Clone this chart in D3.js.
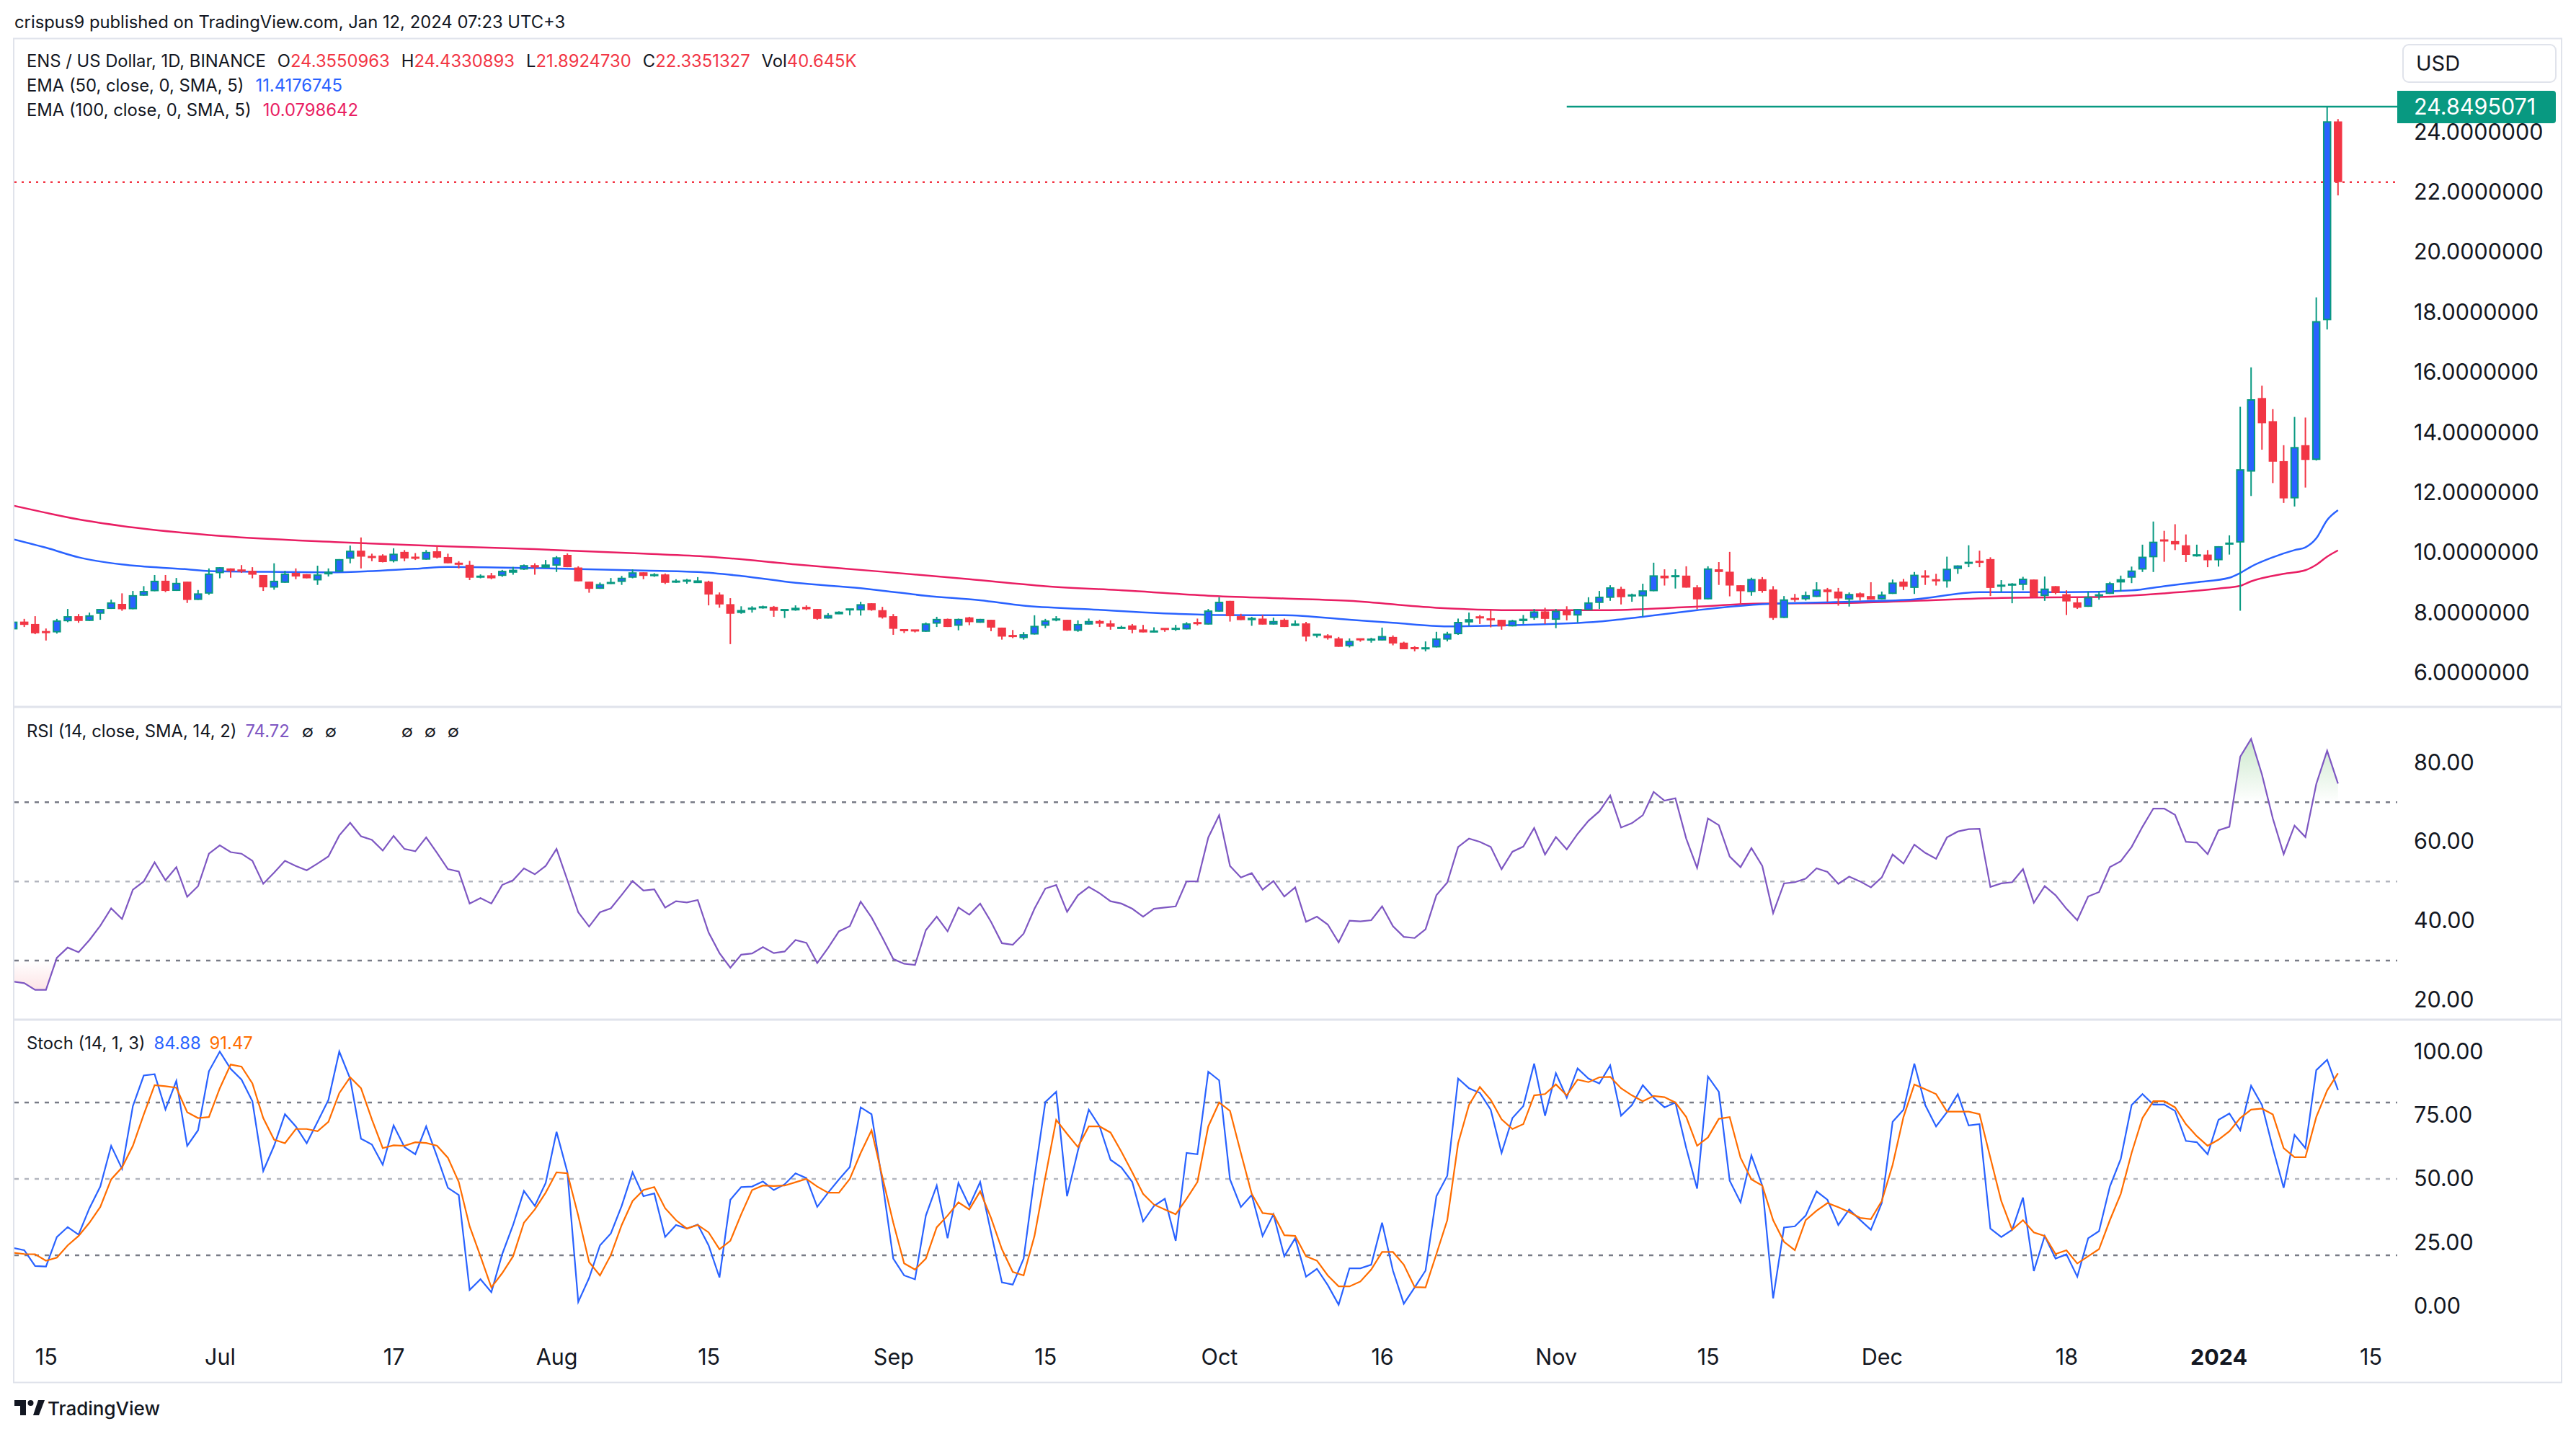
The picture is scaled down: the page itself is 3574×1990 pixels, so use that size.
<!DOCTYPE html>
<html><head><meta charset="utf-8">
<script src="https://cdn.jsdelivr.net/npm/d3@7"></script>
<style>
html,body{margin:0;padding:0;background:#fff;}
svg{display:block;}
</style></head><body>
<svg id="chart" width="3574" height="1990"></svg>
<script>
// ---------------- DATA ----------------
const firstDay = "2023-06-12";
const lastDay = "2024-01-12";
const openP = [
7.45,7.71,7.63,7.37,7.35,7.72,7.89,7.73,7.97,8.13,
8.30,8.12,8.57,8.72,9.07,8.73,9.04,8.43,8.64,9.32,
9.48,9.43,9.40,9.26,8.84,9.00,9.33,9.29,9.08,9.29,
9.37,9.80,10.07,9.88,9.91,9.72,10.03,9.85,9.77,10.05,
9.86,9.67,9.60,9.17,9.25,9.23,9.35,9.44,9.59,9.52,
9.57,9.93,9.51,9.04,8.80,8.97,9.03,9.17,9.35,9.23,
9.28,9.01,9.05,9.00,9.04,8.61,8.29,8.01,8.12,8.16,
8.20,8.08,8.09,8.20,8.13,7.81,7.96,8.10,8.08,8.32,
8.09,7.89,7.45,7.43,7.37,7.64,7.80,7.57,7.85,7.67,
7.77,7.51,7.25,7.16,7.28,7.57,7.76,7.77,7.40,7.61,
7.73,7.65,7.47,7.58,7.45,7.35,7.48,7.45,7.45,7.68,
7.61,8.04,8.40,7.89,7.76,7.81,7.61,7.77,7.57,7.65,
7.25,7.25,7.15,6.89,7.14,7.09,7.08,7.20,7.01,6.85,
6.79,6.85,7.11,7.29,7.70,7.87,7.80,7.77,7.55,7.73,
7.83,8.05,7.77,8.07,7.91,8.09,8.33,8.50,8.80,8.55,
8.55,8.72,9.24,9.20,9.24,8.85,8.45,9.45,9.37,8.92,
8.69,9.12,8.78,7.83,8.49,8.45,8.53,8.78,8.71,8.44,
8.65,8.56,8.45,8.63,9.04,8.83,9.24,9.11,9.05,9.46,
9.64,9.73,9.79,8.88,8.92,8.93,9.11,8.56,8.89,8.62,
8.35,8.20,8.55,8.63,9.03,9.17,9.44,9.85,10.43,10.39,
10.25,9.90,9.94,9.75,10.27,10.34,12.70,15.15,14.38,13.05,
11.81,13.58,13.09,17.74,24.3550963];
const highP = [
7.73,7.80,7.89,7.48,7.80,8.13,7.96,8.01,8.13,8.44,
8.65,8.73,8.89,9.26,9.26,9.16,9.04,8.76,9.48,9.52,
9.48,9.59,9.52,9.26,9.65,9.40,9.48,9.29,9.57,9.48,
9.79,10.24,10.51,9.97,9.95,10.15,10.09,9.99,10.09,10.24,
9.97,9.72,9.73,9.28,9.33,9.43,9.53,9.61,9.65,9.76,
9.89,9.98,9.55,9.04,9.01,9.16,9.23,9.45,9.35,9.32,
9.31,9.12,9.13,9.19,9.07,8.68,8.49,8.22,8.22,8.24,
8.23,8.11,8.25,8.25,8.13,7.99,8.05,8.13,8.37,8.32,
8.20,7.96,7.45,7.43,7.68,7.87,7.81,7.81,7.87,7.80,
7.77,7.51,7.43,7.36,7.92,7.80,7.89,7.77,7.75,7.81,
7.77,7.75,7.57,7.63,7.60,7.52,7.48,7.60,7.69,7.81,
8.13,8.52,8.40,7.97,7.87,7.93,7.84,7.81,7.75,7.70,
7.29,7.29,7.20,7.15,7.14,7.17,7.51,7.25,7.04,6.89,
7.05,7.37,7.37,7.81,8.01,7.93,8.09,7.77,7.77,7.93,
8.13,8.17,8.13,8.22,8.13,8.52,8.73,8.92,8.87,8.64,
8.97,9.67,9.45,9.45,9.55,8.92,9.55,9.69,10.03,8.92,
9.17,9.19,8.89,8.56,8.63,8.71,9.02,8.83,8.83,8.68,
8.68,9.02,8.71,9.11,9.13,9.36,9.42,9.30,9.87,9.58,
10.25,10.07,9.85,9.09,8.99,9.20,9.11,9.21,8.89,8.75,
8.50,8.71,8.71,9.03,9.24,9.54,10.27,11.04,10.73,10.95,
10.61,10.27,10.09,10.22,10.58,14.86,16.17,15.56,14.78,13.58,
14.52,14.50,18.50,24.8495071,24.4330893];
const lowP = [
7.33,7.53,7.29,7.08,7.31,7.69,7.67,7.73,7.77,8.13,
8.07,8.12,8.57,8.72,8.69,8.73,8.33,8.43,8.60,9.15,
9.17,9.33,9.15,8.73,8.77,9.00,9.12,9.15,8.93,9.21,
9.37,9.65,9.48,9.72,9.68,9.68,9.72,9.76,9.77,9.81,
9.65,9.48,9.09,9.15,9.12,9.20,9.27,9.43,9.27,9.52,
9.36,9.52,9.05,8.67,8.80,8.96,8.93,9.15,9.12,9.20,
8.96,9.00,8.97,9.00,8.25,8.17,6.96,7.97,8.01,8.14,
7.87,7.83,8.07,8.09,7.77,7.81,7.96,7.92,7.91,8.07,
7.81,7.27,7.33,7.35,7.37,7.53,7.53,7.42,7.59,7.67,
7.39,7.11,7.16,7.11,7.28,7.49,7.72,7.40,7.37,7.61,
7.53,7.44,7.47,7.32,7.35,7.35,7.37,7.40,7.45,7.58,
7.61,8.04,7.71,7.76,7.57,7.61,7.61,7.53,7.57,7.05,
7.18,7.11,6.87,6.85,7.04,7.01,7.08,6.92,6.79,6.72,
6.72,6.85,7.05,7.27,7.57,7.63,7.52,7.44,7.55,7.63,
7.77,7.63,7.49,7.75,7.68,8.09,8.13,8.40,8.28,8.37,
7.88,8.72,8.91,8.81,8.84,8.12,8.45,8.93,8.55,8.28,
8.57,8.67,7.77,7.83,8.37,8.41,8.53,8.37,8.24,8.21,
8.41,8.44,8.45,8.63,8.76,8.63,8.93,8.91,8.84,9.30,
9.52,9.52,8.56,8.69,8.32,8.75,8.50,8.40,8.62,7.93,
8.13,8.20,8.44,8.63,8.71,8.99,9.36,9.36,9.70,10.09,
9.69,9.87,9.52,9.54,9.94,8.07,11.89,13.43,12.32,11.66,
11.54,12.17,13.07,17.43,21.8924730];
const closeP = [
7.71,7.60,7.32,7.35,7.75,7.89,7.73,7.92,8.13,8.35,
8.12,8.59,8.73,9.07,8.73,9.00,8.43,8.65,9.31,9.52,
9.39,9.39,9.27,8.85,9.07,9.31,9.21,9.15,9.28,9.38,
9.79,10.07,9.87,9.84,9.69,9.97,9.81,9.82,10.03,9.84,
9.65,9.60,9.17,9.24,9.15,9.40,9.45,9.59,9.51,9.63,
9.85,9.52,9.05,8.80,8.96,9.02,9.17,9.35,9.23,9.28,
9.00,9.07,9.09,9.09,8.61,8.28,7.97,8.11,8.16,8.21,
8.07,8.11,8.18,8.12,7.80,7.93,8.05,8.13,8.29,8.09,
7.85,7.47,7.40,7.40,7.65,7.80,7.53,7.80,7.69,7.80,
7.51,7.21,7.21,7.29,7.57,7.75,7.80,7.41,7.63,7.73,
7.64,7.54,7.53,7.44,7.35,7.41,7.45,7.49,7.65,7.64,
8.08,8.37,7.89,7.76,7.84,7.61,7.73,7.53,7.65,7.21,
7.29,7.16,6.87,7.07,7.10,7.13,7.23,6.98,6.79,6.80,
6.85,7.15,7.31,7.70,7.81,7.83,7.77,7.55,7.75,7.81,
8.05,7.80,8.07,7.92,8.13,8.35,8.54,8.85,8.52,8.61,
8.75,9.25,9.15,9.24,8.84,8.45,9.48,9.36,8.91,8.72,
9.13,8.73,7.83,8.45,8.44,8.59,8.78,8.69,8.48,8.63,
8.52,8.44,8.61,9.01,8.87,9.27,9.18,9.06,9.47,9.58,
9.69,9.67,8.83,8.93,8.96,9.14,8.53,8.81,8.66,8.38,
8.17,8.53,8.62,8.99,9.14,9.41,9.87,10.37,10.39,10.28,
9.93,9.93,9.75,10.22,10.34,12.78,15.11,14.31,13.03,11.81,
13.52,13.09,17.71,24.36,22.3351327];
const volumeLabel = "40.645K";

// EMA values read at selected candle indexes
const ema50Idx = [0,3,6,10,16,18,25,29,37,40,48,58,63,67,72,78,80,84,89,93,99,107,111,117,123,127,132,138,146,150,155,157,161,169,175,181,189,195,198,201,204,205,206,208,210,211,212,213,214];
const ema50Val = [10.45,10.17,9.85,9.61,9.45,9.39,9.36,9.35,9.47,9.53,9.49,9.41,9.36,9.23,9.00,8.82,8.74,8.57,8.42,8.24,8.12,7.97,7.93,7.92,7.77,7.67,7.55,7.59,7.71,7.87,8.09,8.17,8.29,8.37,8.45,8.69,8.69,8.75,8.89,9.02,9.17,9.33,9.54,9.85,10.09,10.18,10.48,11.09,11.4176745];
const ema100Idx = [0,3,6,10,18,30,40,48,58,64,72,80,88,95,103,110,117,123,131,138,146,154,161,169,175,183,192,198,203,205,206,209,211,212,213,214];
const ema100Val = [11.57,11.33,11.11,10.89,10.59,10.35,10.21,10.12,9.97,9.87,9.61,9.37,9.12,8.89,8.73,8.57,8.48,8.40,8.17,8.09,8.09,8.19,8.31,8.33,8.40,8.50,8.53,8.65,8.81,8.90,9.05,9.30,9.42,9.60,9.87,10.0798642];

const rsiVal = [
24.7,24.3,22.6,22.6,30.7,33.3,32.1,35.2,38.8,43.2,
40.5,47.9,50.0,54.8,50.3,53.6,46.1,48.8,57.0,59.1,
57.4,57.0,55.2,49.4,52.2,55.2,53.9,52.8,54.5,56.3,
61.6,64.8,61.4,60.5,57.8,61.5,58.2,57.6,61.1,57.2,
53.1,52.5,44.4,45.8,44.4,49.1,50.3,53.3,51.8,53.9,
58.2,50.3,42.2,38.6,42.2,43.2,46.6,50.1,47.7,48.0,
43.4,45.0,44.7,45.3,37.1,31.9,28.2,31.5,31.8,33.4,
31.9,32.3,35.2,34.5,29.4,33.2,37.4,38.7,44.9,40.9,
35.8,30.4,29.2,28.9,37.7,41.1,37.4,43.4,41.6,44.4,
39.8,34.4,34.0,36.8,43.1,48.2,49.1,42.3,46.5,48.6,
47.0,45.0,44.4,43.1,41.1,43.1,43.4,43.7,50.0,50.0,
61.1,66.7,53.9,51.0,52.1,47.9,50.1,46.2,48.5,39.8,
41.1,39.1,34.6,40.1,39.9,40.2,43.7,38.7,36.0,35.7,
37.9,46.5,49.7,58.7,60.8,60.0,58.7,53.1,57.5,58.8,
63.5,56.8,61.2,58.1,62.0,65.3,67.7,71.7,63.6,64.7,
66.7,72.6,70.4,71.0,60.8,53.4,65.9,64.2,56.3,53.6,
58.4,53.9,42.0,49.5,49.8,50.7,53.3,52.4,49.4,51.2,
50.0,48.5,51.0,56.8,54.5,59.3,57.2,55.7,61.1,62.6,
63.2,63.3,48.6,49.5,49.8,53.1,44.6,48.8,46.5,43.1,
40.2,46.2,47.3,53.6,55.1,58.7,63.8,68.4,68.4,66.8,
60.0,59.8,56.9,62.9,63.8,81.5,86.0,77.0,65.9,56.9,
64.1,61.2,74.6,83.0,74.72];

const stochK = [
22.9,22.0,15.8,15.6,27.2,31.1,28.1,38.5,47.0,63.0,
54.0,78.6,90.6,91.1,77.3,88.5,63.0,69.1,92.3,100.0,
93.2,89.0,80.5,53.1,63.0,75.4,70.6,64.0,72.4,81.0,
100.0,89.4,65.8,63.5,55.6,71.0,62.5,59.7,70.6,58.8,
46.5,43.7,6.4,10.6,5.5,20.5,31.9,45.3,39.4,48.4,
68.5,52.6,1.7,11.1,23.9,28.6,39.4,52.6,43.2,44.3,
27.2,31.9,30.5,32.1,23.9,11.3,41.8,46.8,47.0,49.0,
45.6,47.9,52.2,50.3,39.0,44.6,49.8,54.7,78.1,75.4,
48.8,18.7,12.1,10.6,35.6,47.4,26.7,48.4,39.4,48.8,
29.0,9.4,8.5,18.7,50.7,80.2,84.2,43.2,61.1,77.2,
70.6,57.5,54.5,48.8,33.3,39.4,42.2,25.7,60.2,59.7,
92.1,88.7,49.8,39.0,43.7,27.6,36.1,19.6,26.7,11.6,
14.7,8.3,0.6,14.9,14.9,16.3,32.8,14.0,1.0,7.4,
14.0,43.2,51.2,89.4,85.6,83.8,77.2,60.2,73.9,78.6,
95.3,74.8,91.5,81.9,93.4,89.4,87.5,94.6,74.8,79.0,
86.8,81.9,78.1,80.0,62.1,46.2,90.2,84.2,49.3,40.8,
59.2,47.4,3.1,30.9,31.4,35.6,45.1,41.8,31.9,38.0,
33.9,30.0,40.5,72.4,77.2,95.3,79.0,70.6,76.2,83.3,
71.0,71.5,30.5,27.2,30.0,42.7,13.8,27.6,18.7,20.4,
11.6,26.7,29.5,47.0,57.8,79.0,83.3,79.2,79.2,76.7,
64.9,64.4,59.7,73.2,75.7,69.1,86.6,79.0,62.1,46.5,
67.3,62.1,92.7,96.8,84.88];
const stochD = [
21.0,20.5,20.4,17.9,19.1,23.9,27.6,32.8,39.0,49.8,
54.5,63.0,75.3,86.8,86.4,85.8,76.2,73.9,74.3,85.6,
94.9,94.1,87.5,73.9,65.4,64.0,69.6,69.6,68.7,72.4,
83.7,89.9,85.6,73.4,62.1,63.2,63.0,64.4,64.1,63.0,
58.3,48.8,31.4,19.6,7.4,13.0,19.6,32.8,38.0,44.6,
52.6,52.2,35.6,17.3,12.1,20.1,31.9,41.3,45.6,46.8,
38.5,33.8,30.5,31.9,29.0,22.4,25.7,36.1,45.6,47.4,
47.2,47.4,48.7,50.0,47.0,44.6,44.6,50.0,60.2,69.1,
50.7,32.8,16.8,14.4,18.7,31.0,35.6,40.8,38.0,45.1,
34.7,22.4,13.5,12.1,27.6,50.7,73.2,67.7,62.5,70.6,
70.6,68.2,60.7,52.6,44.1,39.9,38.0,36.1,42.2,48.8,
70.6,80.0,76.7,60.2,44.1,36.6,36.1,27.9,27.6,19.6,
17.9,12.1,7.8,7.8,9.7,14.4,21.3,21.3,16.3,7.5,
7.4,20.5,33.8,64.0,79.0,86.1,81.1,73.4,69.6,71.5,
82.8,83.3,87.1,82.8,89.0,88.0,89.9,90.1,85.6,82.8,
80.5,82.6,82.1,80.0,74.3,63.0,66.3,73.6,74.3,58.3,
49.8,47.4,33.8,25.3,22.0,33.8,37.5,40.5,38.9,37.0,
34.7,34.2,41.3,55.5,74.3,87.1,85.2,83.3,76.4,76.4,
76.4,75.4,58.3,41.3,30.0,33.8,29.0,27.6,20.5,22.0,
16.8,19.6,22.4,33.8,44.1,60.2,73.9,80.5,80.5,78.1,
71.5,66.8,63.0,65.4,68.7,73.9,77.2,77.6,75.3,62.1,
58.5,58.5,74.3,84.7,91.47];

const priceTicks = [6,8,10,12,14,16,18,20,22,24];
const rsiTicks = [20,40,60,80];
const rsiLevels = [70,50,30];
const stochTicks = [0,25,50,75,100];
const stochLevels = [80,50,20];
const timeTickDates = ["2023-06-15","2023-07-01","2023-07-17","2023-08-01","2023-08-15","2023-09-01","2023-09-15","2023-10-01","2023-10-16","2023-11-01","2023-11-15","2023-12-01","2023-12-18","2024-01-01","2024-01-15"];
const timeTickLabels = ["15","Jul","17","Aug","15","Sep","15","Oct","16","Nov","15","Dec","18","2024","15"];
const rayStartIndex = 143;

// ---------------- CHART ----------------
const FONT = "Inter, 'Noto Sans', Roboto, sans-serif";
const W = 3574, H = 1990;
const svg = d3.select("#chart");
svg.append("rect").attr("width", W).attr("height", H).attr("fill", "#ffffff");
const defs = svg.append("defs");

const parse = d3.utcParse("%Y-%m-%d");
const dates = d3.utcDay.range(parse(firstDay), d3.utcDay.offset(parse(lastDay), 1));
const x = d3.scaleUtc().domain([parse("2023-06-15"), parse("2024-01-15")]).range([63.8, 3289]);
const plotL = 20, plotR = 3326;

const yP = d3.scaleLinear().domain([6, 24]).range([933.9, 183.3]);
const yR = d3.scaleLinear().domain([20, 80]).range([1388, 1058.3]);
const yS = d3.scaleLinear().domain([0, 100]).range([1812.7, 1459.3]);

const panes = {price: [56, 979], rsi: [983, 1413], stoch: [1417, 1860]};
Object.entries(panes).forEach(([k, [t, b]]) => {
  defs.append("clipPath").attr("id", "clip-" + k).append("rect")
    .attr("x", plotL).attr("y", t).attr("width", plotR - plotL).attr("height", b - t);
});

// frame + dividers
const BORDER = "#e0e3eb";
svg.append("rect").attr("x", 19).attr("y", 53.5).attr("width", 3535).attr("height", 1865)
  .attr("fill", "none").attr("stroke", BORDER).attr("stroke-width", 2);
[981, 1415].forEach(yy => svg.append("line").attr("x1", 20).attr("x2", 3554)
  .attr("y1", yy).attr("y2", yy).attr("stroke", BORDER).attr("stroke-width", 3));

// ---- price pane ----
const gP = svg.append("g").attr("clip-path", "url(#clip-price)");
const lastClose = closeP[closeP.length - 1];
gP.append("line").attr("x1", plotL).attr("x2", plotR).attr("y1", yP(lastClose)).attr("y2", yP(lastClose))
  .attr("stroke", "#f23645").attr("stroke-width", 2.5).attr("stroke-dasharray", "3,7");
const topHigh = d3.max(highP);
gP.append("line").attr("x1", x(dates[rayStartIndex])).attr("x2", plotR).attr("y1", yP(topHigh)).attr("y2", yP(topHigh))
  .attr("stroke", "#089981").attr("stroke-width", 2.5);

const emaLine = d3.line().curve(d3.curveMonotoneX);
gP.append("path").attr("d", emaLine(ema100Idx.map((i, k) => [x(dates[i]), yP(ema100Val[k])])))
  .attr("fill", "none").attr("stroke", "#e91e63").attr("stroke-width", 2.5);
gP.append("path").attr("d", emaLine(ema50Idx.map((i, k) => [x(dates[i]), yP(ema50Val[k])])))
  .attr("fill", "none").attr("stroke", "#2962ff").attr("stroke-width", 2.5);

const UP_BORDER = "#089981", UP_FILL = "#2962ff", DOWN = "#f23645";
const bw = 11.5;
const candles = dates.map((d, i) => ({d, o: openP[i], h: highP[i], l: lowP[i], c: closeP[i]}));
gP.selectAll("line.wick").data(candles).join("line").attr("class", "wick")
  .attr("x1", d => x(d.d)).attr("x2", d => x(d.d))
  .attr("y1", d => yP(d.h)).attr("y2", d => yP(d.l))
  .attr("stroke", d => d.c >= d.o ? UP_BORDER : DOWN).attr("stroke-width", 2);
gP.selectAll("rect.body").data(candles).join("rect").attr("class", "body")
  .each(function(d) {
    const s = d3.select(this);
    const cx = x(d.d);
    const top = yP(Math.max(d.o, d.c)), bot = yP(Math.min(d.o, d.c));
    const h = bot - top;
    if (d.c >= d.o) {
      if (h < 5) {
        s.attr("x", cx - bw / 2).attr("y", (top + bot) / 2 - 1.5).attr("width", bw).attr("height", Math.max(h, 3))
          .attr("fill", UP_BORDER);
      } else {
        s.attr("x", cx - bw / 2 + 1).attr("y", top + 1).attr("width", bw - 2).attr("height", h - 2)
          .attr("fill", UP_FILL).attr("stroke", UP_BORDER).attr("stroke-width", 2);
      }
    } else {
      s.attr("x", cx - bw / 2).attr("y", h < 3 ? (top + bot) / 2 - 1.5 : top).attr("width", bw)
        .attr("height", Math.max(h, 3)).attr("fill", DOWN);
    }
  });

// price axis
const axisFont = 30.5;
function styleAxis(g) {
  g.select(".domain").remove();
  g.attr("font-family", FONT).attr("font-size", axisFont);
  g.selectAll("text").attr("fill", "#131722");
}
svg.append("g").attr("transform", "translate(3349,0)")
  .call(d3.axisRight(yP).tickValues(priceTicks).tickFormat(d3.format(".7f")).tickSize(0).tickPadding(0))
  .call(styleAxis);
svg.append("rect").attr("x", 3334).attr("y", 62).attr("width", 212).attr("height", 52).attr("rx", 8)
  .attr("fill", "#fff").attr("stroke", BORDER).attr("stroke-width", 2);
svg.append("text").attr("x", 3352).attr("y", 98).attr("font-family", FONT).attr("font-size", 29)
  .attr("fill", "#131722").text("USD");
svg.append("path").attr("d", (() => {
  const y0 = yP(topHigh) - 22, y1 = yP(topHigh) + 23, x0 = 3326, x1 = 3546, r = 4;
  return `M${x0},${y0} H${x1 - r} Q${x1},${y0} ${x1},${y0 + r} V${y1 - r} Q${x1},${y1} ${x1 - r},${y1} H${x0} Z`;
})()).attr("fill", "#089981");
svg.append("text").attr("x", 3349).attr("y", yP(topHigh)).attr("dy", "0.35em").attr("font-family", FONT)
  .attr("font-size", axisFont).attr("fill", "#fff").text(d3.format(".7f")(topHigh));

// ---- RSI pane ----
const gR = svg.append("g");
rsiLevels.forEach(v => gR.append("line").attr("x1", plotL).attr("x2", plotR).attr("y1", yR(v)).attr("y2", yR(v))
  .attr("stroke", v === 50 ? "#b2b5be" : "#787b86").attr("stroke-width", 2.5).attr("stroke-dasharray", "6,8"));
const gOB = defs.append("linearGradient").attr("id", "gradOB").attr("gradientUnits", "userSpaceOnUse")
  .attr("x1", 0).attr("x2", 0).attr("y1", yR(100)).attr("y2", yR(70));
gOB.append("stop").attr("offset", 0).attr("stop-color", "#4caf50").attr("stop-opacity", 0.55);
gOB.append("stop").attr("offset", 1).attr("stop-color", "#4caf50").attr("stop-opacity", 0);
const gOS = defs.append("linearGradient").attr("id", "gradOS").attr("gradientUnits", "userSpaceOnUse")
  .attr("x1", 0).attr("x2", 0).attr("y1", yR(30)).attr("y2", yR(0));
gOS.append("stop").attr("offset", 0).attr("stop-color", "#f23645").attr("stop-opacity", 0);
gOS.append("stop").attr("offset", 1).attr("stop-color", "#f23645").attr("stop-opacity", 0.55);
defs.append("clipPath").attr("id", "clip-ob").append("rect").attr("x", plotL).attr("y", panes.rsi[0])
  .attr("width", plotR - plotL).attr("height", yR(70) - panes.rsi[0]);
defs.append("clipPath").attr("id", "clip-os").append("rect").attr("x", plotL).attr("y", yR(30))
  .attr("width", plotR - plotL).attr("height", panes.rsi[1] - yR(30));
gR.append("g").attr("clip-path", "url(#clip-ob)").append("path")
  .attr("d", d3.area().x((d, i) => x(dates[i])).y0(yR(70)).y1(d => yR(d))(rsiVal)).attr("fill", "url(#gradOB)");
gR.append("g").attr("clip-path", "url(#clip-os)").append("g").attr("clip-path", "url(#clip-rsi)").append("path")
  .attr("d", d3.area().x((d, i) => x(dates[i])).y0(yR(30)).y1(d => yR(d))(rsiVal)).attr("fill", "url(#gradOS)");
gR.append("g").attr("clip-path", "url(#clip-rsi)").append("path")
  .attr("d", d3.line().x((d, i) => x(dates[i])).y(d => yR(d))(rsiVal))
  .attr("fill", "none").attr("stroke", "#7e57c2").attr("stroke-width", 2.2);
svg.append("g").attr("transform", "translate(3349,0)")
  .call(d3.axisRight(yR).tickValues(rsiTicks).tickFormat(d3.format(".2f")).tickSize(0).tickPadding(0))
  .call(styleAxis);

// ---- Stoch pane ----
const gS = svg.append("g");
stochLevels.forEach(v => gS.append("line").attr("x1", plotL).attr("x2", plotR).attr("y1", yS(v)).attr("y2", yS(v))
  .attr("stroke", v === 50 ? "#b2b5be" : "#787b86").attr("stroke-width", 2.5).attr("stroke-dasharray", "6,8"));
const gSc = gS.append("g").attr("clip-path", "url(#clip-stoch)");
gSc.append("path").attr("d", d3.line().x((d, i) => x(dates[i])).y(d => yS(d))(stochK))
  .attr("fill", "none").attr("stroke", "#2962ff").attr("stroke-width", 2.2);
gSc.append("path").attr("d", d3.line().x((d, i) => x(dates[i])).y(d => yS(d))(stochD))
  .attr("fill", "none").attr("stroke", "#ff6d00").attr("stroke-width", 2.2);
svg.append("g").attr("transform", "translate(3349,0)")
  .call(d3.axisRight(yS).tickValues(stochTicks).tickFormat(d3.format(".2f")).tickSize(0).tickPadding(0))
  .call(styleAxis);

// ---- time axis ----
const tAx = svg.append("g").attr("transform", "translate(0,1872)")
  .call(d3.axisBottom(x).tickValues(timeTickDates.map(parse)).tickFormat((d, i) => timeTickLabels[i]).tickSize(0).tickPadding(0))
  .call(styleAxis);
tAx.selectAll("text").attr("font-weight", (d, i) => timeTickLabels[i] === "2024" ? 700 : 400);

// ---- legends ----
const LF = 23.8;
const DARK = "#131722";
function legend(yb, parts) {
  const t = svg.append("text").attr("x", 37).attr("y", yb).attr("font-family", FONT).attr("font-size", LF);
  parts.forEach(p => t.append("tspan").attr("fill", p[1]).attr("dx", p[2] || 0).text(p[0]));
  return t;
}
svg.append("text").attr("x", 20).attr("y", 39).attr("font-family", FONT).attr("font-size", LF).attr("fill", DARK)
  .text("crispus9 published on TradingView.com, Jan 12, 2024 07:23 UTC+3");
const n = closeP.length - 1, f7 = d3.format(".7f"), valCol = closeP[n] >= openP[n] ? "#089981" : "#f23645";
legend(93, [["ENS / US Dollar, 1D, BINANCE", DARK], ["O", DARK, 16], [f7(openP[n]), valCol], ["H", DARK, 16], [f7(highP[n]), valCol],
  ["L", DARK, 16], [f7(lowP[n]), valCol], ["C", DARK, 16], [f7(closeP[n]), valCol], ["Vol", DARK, 16], [volumeLabel, valCol]]);
legend(127, [["EMA (50, close, 0, SMA, 5)", DARK], [f7(ema50Val[ema50Val.length - 1]), "#2962ff", 16]]);
legend(161, [["EMA (100, close, 0, SMA, 5)", DARK], [f7(ema100Val[ema100Val.length - 1]), "#e91e63", 16]]);
legend(1023, [["RSI (14, close, SMA, 14, 2)", DARK], [d3.format(".2f")(rsiVal[n]), "#7e57c2", 12]]);
[427, 459, 565, 597, 629].forEach(cx => svg.append("text").attr("x", cx).attr("y", 1023).attr("text-anchor", "middle")
  .attr("font-family", FONT).attr("font-size", LF).attr("fill", DARK).text("∅"));
legend(1456, [["Stoch (14, 1, 3)", DARK], [d3.format(".2f")(stochK[n]), "#2962ff", 12], [d3.format(".2f")(stochD[n]), "#ff6d00", 12]]);

// ---- TradingView logo ----
const logo = svg.append("g").attr("transform", "translate(20,1943)");
logo.append("path").attr("d", "M0,0 H16 V21 H8 V8 H0 Z").attr("fill", DARK);
logo.append("circle").attr("cx", 22.5).attr("cy", 4).attr("r", 4).attr("fill", DARK);
logo.append("path").attr("d", "M26,21 L33,0 H42 L34,21 Z").attr("fill", DARK);
svg.append("text").attr("x", 66).attr("y", 1964).attr("font-family", FONT).attr("font-size", 26)
  .attr("font-weight", 500).attr("fill", DARK).text("TradingView");
</script>
</body></html>
